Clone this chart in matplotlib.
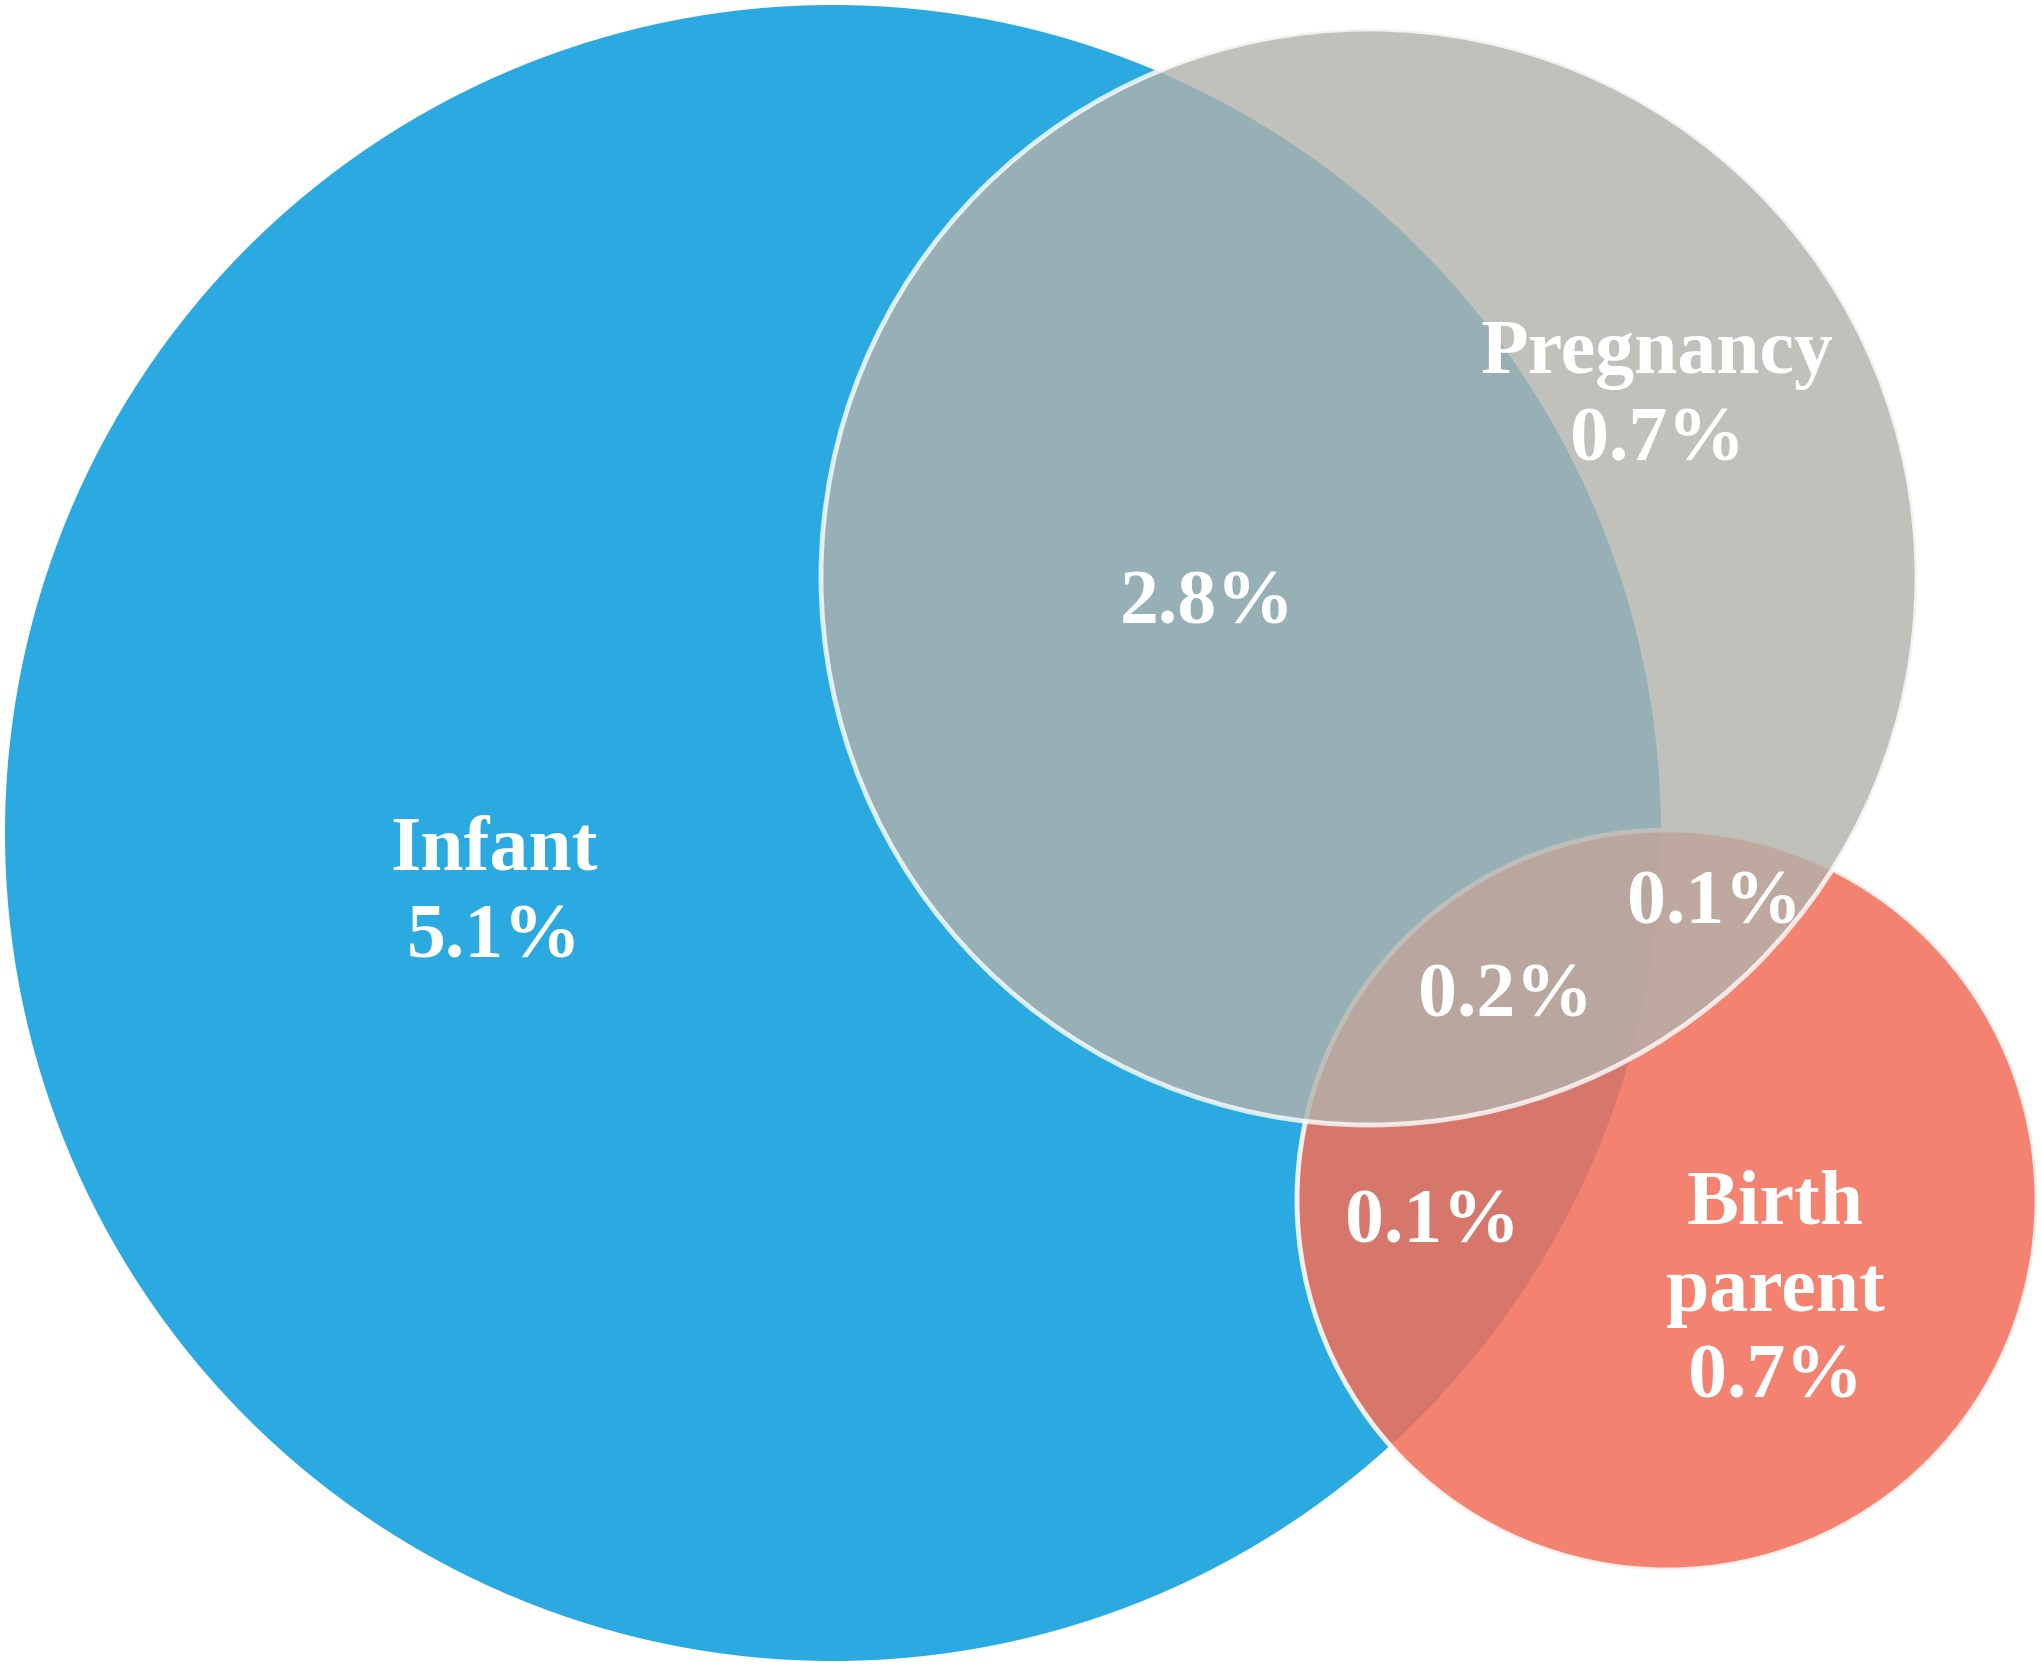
import matplotlib.pyplot as plt
from matplotlib.patches import Circle

# sets and their exclusive shares
sets = ["Infant", "Birth\nparent", "Pregnancy"]
set_shares = ["5.1%", "0.7%", "0.7%"]
# overlap regions
overlaps = ["Infant+Pregnancy", "Pregnancy+Birth parent", "All three", "Infant+Birth parent"]
overlap_shares = ["2.8%", "0.1%", "0.2%", "0.1%"]

colors = ["#2AAAE1", "#F2705B", "#B2B2AB"]
alphas = [1.0, 0.87, 0.8]
edges = ["none", "white", "white"]

# layout in pixel space (figure is 2042 x 1668)
centers = [(833, 833), (1667, 1200), (1369, 577)]
radii = [828, 370, 548]
set_label_pos = [(494, 895), (1775, 1292), (1657, 398)]
overlap_label_pos = [(1207, 605), (1714, 905), (1505, 998), (1432, 1224)]

fig = plt.figure(figsize=(20.42, 16.68), dpi=100)
ax = fig.add_axes([0, 0, 1, 1])
ax.set_xlim(0, 2042)
ax.set_ylim(1668, 0)
ax.set_aspect("equal")
ax.axis("off")

for c, r, col, a, ec in zip(centers, radii, colors, alphas, edges):
    ax.add_patch(Circle(c, r, facecolor=col, alpha=a, edgecolor=ec, linewidth=3.5))

font = dict(family="Liberation Serif", weight="bold", color="white",
            fontsize=56, ha="center", va="center", linespacing=1.3)

for name, share, pos in zip(sets, set_shares, set_label_pos):
    ax.text(pos[0], pos[1], f"{name}\n{share}", **font)

for share, pos in zip(overlap_shares, overlap_label_pos):
    ax.text(pos[0], pos[1], share, **font)

fig.savefig("out.png", dpi=100)
